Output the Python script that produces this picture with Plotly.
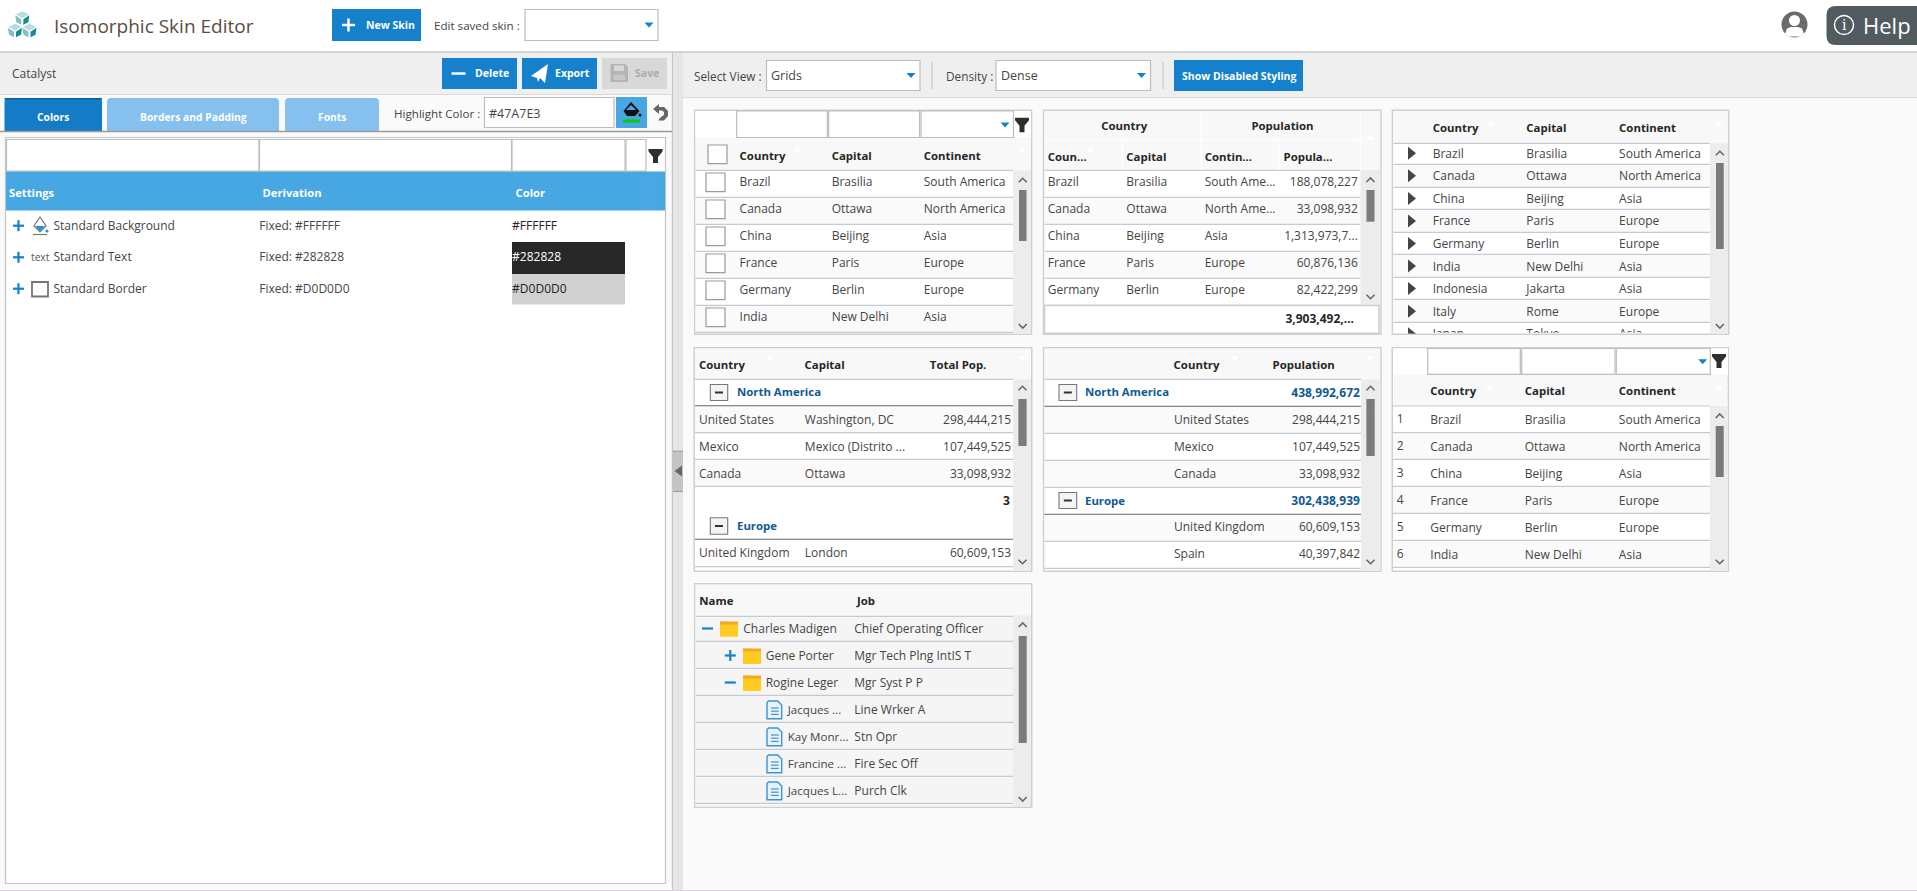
import plotly.graph_objects as go

# ---------- content ----------
APP_TITLE = "Isomorphic Skin Editor"
SKIN_NAME = "Catalyst"
TABS = ["Colors", "Borders and Padding", "Fonts"]
SETTINGS_HEADERS = ["Settings", "Derivation", "Color"]
SETTINGS_NAMES = ["Standard Background", "Standard Text", "Standard Border"]
SETTINGS_DERIV = ["Fixed: #FFFFFF", "Fixed: #282828", "Fixed: #D0D0D0"]
SETTINGS_COLOR = ["#FFFFFF", "#282828", "#D0D0D0"]

GRID_HEAD = ["Country", "Capital", "Continent"]
COUNTRIES = ["Brazil", "Canada", "China", "France", "Germany", "India", "Indonesia", "Italy", "Japan"]
CAPITALS = ["Brasilia", "Ottawa", "Beijing", "Paris", "Berlin", "New Delhi", "Jakarta", "Rome", "Tokyo"]
CONTINENTS = ["South America", "North America", "Asia", "Europe", "Europe", "Asia", "Asia", "Europe", "Asia"]

G2_TOP = ["Country", "Population"]
G2_HEAD = ["Coun...", "Capital", "Contin...", "Popula..."]
G2_CONTINENTS = ["South Ame...", "North Ame...", "Asia", "Europe", "Europe"]
G2_POP = ["188,078,227", "33,098,932", "1,313,973,7...", "60,876,136", "82,422,299"]
G2_SUMMARY = "3,903,492,..."

G4_HEAD = ["Country", "Capital", "Total Pop."]
G4_COUNTRY = ["United States", "Mexico", "Canada"]
G4_CAPITAL = ["Washington, DC", "Mexico (Distrito ...", "Ottawa"]
G4_POP = ["298,444,215", "107,449,525", "33,098,932"]
G4_COUNT = "3"
G4_LAST = ["United Kingdom", "London", "60,609,153"]
GROUPS = ["North America", "Europe"]

G5_HEAD = ["Country", "Population"]
G5_GROUP_POP = ["438,992,672", "302,438,939"]
G5_COUNTRY_A = ["United States", "Mexico", "Canada"]
G5_POP_A = ["298,444,215", "107,449,525", "33,098,932"]
G5_COUNTRY_B = ["United Kingdom", "Spain"]
G5_POP_B = ["60,609,153", "40,397,842"]

G6_INDEX = ["1", "2", "3", "4", "5", "6"]

TREE_HEAD = ["Name", "Job"]
TREE_NAMES = ["Charles Madigen", "Gene Porter", "Rogine Leger", "Jacques ...", "Kay Monr...", "Francine ...", "Jacques L..."]
TREE_JOBS = ["Chief Operating Officer", "Mgr Tech Plng IntIS T", "Mgr Syst P P", "Line Wrker A", "Stn Opr", "Fire Sec Off", "Purch Clk"]

# ---------- styles ----------
W, H = 1917, 891
FONT = "Open Sans"
BLUE = "#1580CC"
TXT = "#454545"
HEAD = "#262626"
GROUP = "#0F5A96"
RULE = "#C6CAD2"
EDGE = "#CFCFCF"
TSIZE = 12
HSIZE = 11.4
TEXT_OFFSET = 29
BOLD_SHIFT = 3.5

shapes, anns, traces = [], [], []


def rect(x0, y0, x1, y1, fill="rgba(0,0,0,0)", line=None, lw=1):
    shapes.append(dict(type="rect", x0=x0, y0=y0, x1=x1, y1=y1, xref="x", yref="y", fillcolor=fill,
                       line=dict(color=line or "rgba(0,0,0,0)", width=lw if line else 0), layer="below"))


def hline(x0, x1, y, color=RULE, lw=1):
    shapes.append(dict(type="line", x0=x0, x1=x1, y0=y, y1=y, xref="x", yref="y",
                       line=dict(color=color, width=lw), layer="below"))


def poly(points, fill="rgba(0,0,0,0)", line=None, lw=1, close=True):
    d = "M" + " L".join(f"{x:.2f},{y:.2f}" for x, y in points) + (" Z" if close else "")
    shapes.append(dict(type="path", path=d, xref="x", yref="y", fillcolor=fill,
                       line=dict(color=line or "rgba(0,0,0,0)", width=lw if line else 0), layer="below"))


def circle(cx, cy, r, fill="rgba(0,0,0,0)", line=None, lw=1):
    shapes.append(dict(type="circle", x0=cx - r, x1=cx + r, y0=cy - r, y1=cy + r, xref="x", yref="y",
                       fillcolor=fill, line=dict(color=line or "rgba(0,0,0,0)", width=lw if line else 0),
                       layer="below"))


def label(x, y, text, size=TSIZE, color=TXT, bold=False, anchor="left", family=FONT):
    anns.append(dict(x=x, y=y, xref="x", yref="y", text=f"<b>{text}</b>" if bold else text, showarrow=False,
                     xanchor=anchor, yanchor="middle", borderpad=0, borderwidth=0,
                     font=dict(family=family, size=size, color=color)))


def table(edges, first_center, row_h, columns, bottom=None, align="left", color=TXT, size=None, bold=False):
    """Text-only table: edges are the column boundaries; text sits 8px inside them."""
    size = size or (HSIZE if bold else TSIZE)
    top = first_center - TEXT_OFFSET - (BOLD_SHIFT if bold else 0)
    rows = len(columns[0])
    bottom = bottom if bottom is not None else top + rows * row_h + 30
    vals = [[(f"<b>{v}</b>" if bold else v).replace(" ", "\u00a0") for v in col] for col in columns]
    traces.append(go.Table(
        domain=dict(x=[edges[0] / W, edges[-1] / W], y=[1 - bottom / H, 1 - top / H]),
        columnwidth=[edges[i + 1] - edges[i] for i in range(len(edges) - 1)],
        header=dict(values=[], height=1, fill=dict(color="rgba(0,0,0,0)"), line=dict(width=0)),
        cells=dict(values=vals, height=row_h, align=align, fill=dict(color="rgba(0,0,0,0)"), line=dict(width=0),
                   font=dict(family=FONT, size=size, color=color)),
    ))


def chevrons(cx, up_y, down_y):
    poly([(cx - 4, up_y + 2), (cx, up_y - 2), (cx + 4, up_y + 2)], line="#666666", lw=1.6, close=False)
    poly([(cx - 4, down_y - 2), (cx, down_y + 2), (cx + 4, down_y - 2)], line="#666666", lw=1.6, close=False)


def gutter(x0, x1, y0, y1, tx0, tx1, ty0, ty1, up, down):
    rect(x0, y0, x1, y1, "#ECECEC")
    rect(tx0, ty0, tx1, ty1, "#7A7A7A")
    chevrons((tx0 + tx1) / 2, up, down)


def arrow_down(cx, cy, color=BLUE):
    poly([(cx - 4.5, cy - 2.5), (cx + 4.5, cy - 2.5), (cx, cy + 2.5)], color)


def funnel(cx, y0, y1, color="#2E2E2E"):
    poly([(cx - 7, y0), (cx + 7, y0), (cx + 7, y0 + 2.5), (cx + 2.5, y0 + 8), (cx + 2.5, y1), (cx - 2.5, y1),
          (cx - 2.5, y0 + 8), (cx - 7, y0 + 2.5)], color)


def sort_tri(cx, cy, up=True):
    d = -2.5 if up else 2.5
    poly([(cx - 4, cy - d), (cx + 4, cy - d), (cx, cy + d)], "#FFFFFF")


def plus(cx, cy, r=5.5, color=BLUE, lw=2.2):
    poly([(cx - r, cy), (cx + r, cy)], line=color, lw=lw, close=False)
    poly([(cx, cy - r), (cx, cy + r)], line=color, lw=lw, close=False)


def minus(cx, cy, r=5.5, color=BLUE, lw=2.2):
    poly([(cx - r, cy), (cx + r, cy)], line=color, lw=lw, close=False)


def dropdown(x0, y0, x1, y1):
    rect(x0, y0, x1, y1, "#FFFFFF", "#BDBDBD", 1.2)
    arrow_down(x1 - 9, (y0 + y1) / 2)


def grid_box(x0, y0, x1, y1, head_bottom, fill="#F8F8F8"):
    rect(x0, y0, x1, y1, "#FFFFFF", EDGE, 1.5)
    rect(x0 + 1, y0 + 1, x1 - 1, head_bottom, fill)


def stripes(x0, x1, ys):
    for i in range(len(ys) - 1):
        if i % 2:
            rect(x0, ys[i], x1, ys[i + 1], "#FAFAFA")


def rules(x0, x1, ys, color=RULE):
    for y in ys:
        hline(x0, x1, y, color, 1.2)


def filter_boxes(edges, y0, y1):
    for a, b in edges:
        rect(a, y0, b, y1, "#FFFFFF", "#BDBDBD", 1.2)


def folder(x0, y0, x1, y1):
    poly([(x0, y0 + 1.5), (x0 + 7, y0 + 1.5), (x0 + 9, y0 + 4), (x1, y0 + 4), (x1, y1), (x0, y1)], "#FFCB22")
    rect(x0, y0 + 1.5, x1, y0 + 4.5, "#F5A623")


def doc(x0, y0, x1, y1):
    poly([(x0 + 1.5, y0), (x1 - 4, y0), (x1, y0 + 4), (x1, y1), (x0, y1), (x0, y0 + 1.5)], "#E8F2FB", "#3F93D8", 1.4)
    for k in range(3):
        yy = y0 + 7 + k * 3.2
        poly([(x0 + 4, yy), (x1 - 3, yy)], line="#3F93D8", lw=1.2, close=False)


def minus_box(x0, y0, x1, y1):
    shapes.append(dict(type="rect", x0=x0, x1=x1, y0=y0, y1=y1, xref="x", yref="y", fillcolor="#F4F4F4",
                       line=dict(color="#777777", width=1.1), layer="below"))
    poly([((x0 + x1) / 2 - 4, (y0 + y1) / 2), ((x0 + x1) / 2 + 4, (y0 + y1) / 2)], line="#333333", lw=2, close=False)


def button(x0, y0, x1, y1, fill=BLUE):
    rect(x0, y0, x1, y1, fill)


# ---------- page frame ----------
rect(0, 0, W, 51, "#FFFFFF")
rect(0, 51, W, 53, "#D2D2D2")
rect(0, 53, 672, H, "#FAFAFA")
rect(672, 53, 683, H, "#E5E5E5")
shapes.append(dict(type="line", x0=672.3, x1=672.3, y0=53, y1=H, xref="x", yref="y",
                   line=dict(color="#BDBDBD", width=1), layer="below"))
rect(683, 53, W, H, "#FAFAFA")
rect(0, 890, W, 891, "#E4C8E4")

# header bar
teals = ["#7FC0C8", "#158A93", "#B8DCE0"]
for cx, cy in [(22.3, 18.3), (15, 30.7), (29.5, 30.7)]:
    poly([(cx - 6.5, cy - 4), (cx, cy - 7), (cx + 6.5, cy - 4), (cx, cy)], teals[2])
    poly([(cx - 7, cy - 3), (cx - 1, cy + 1), (cx - 1, cy + 6.5), (cx - 6, cy + 4)], teals[0])
    poly([(cx + 7, cy - 3), (cx + 1, cy + 1), (cx + 1, cy + 6.5), (cx + 6, cy + 4)], teals[1])
label(54, 26, APP_TITLE, size=19, color="#5A4C44")
button(332, 9, 421, 41)
plus(348.5, 25, r=6.5, color="#FFFFFF", lw=2.4)
label(365.5, 25, "New Skin", size=10.5, color="#FFFFFF", bold=True)
label(434, 25, "Edit saved skin :", size=11.6)
dropdown(525, 9.5, 658, 40.5)

circle(1794.5, 24.5, 13, "#6B6B6B")
circle(1794.5, 20.5, 5.5, "#FFFFFF")
poly([(1785, 34), (1787, 28.5), (1791, 27), (1798, 27), (1802, 28.5), (1804, 34), (1800, 36.5), (1789, 36.5)], "#FFFFFF")
shapes.append(dict(type="path", xref="x", yref="y", layer="below", fillcolor="#525C60", line=dict(width=0),
                   path="M1917,6 L1836,6 Q1826.5,6 1826.5,15 L1826.5,36 Q1826.5,45 1836,45 L1917,45 Z"))
circle(1844, 25, 9.5, line="#FFFFFF", lw=1.4)
label(1844, 25, "i", size=14, color="#FFFFFF", anchor="center", family="DejaVu Serif")
label(1863, 25, "Help", size=22, color="#FFFFFF")

# left toolbar
rect(0, 53, 672, 94, "#EFEFEF")
hline(0, 672, 94.5, "#DADADA")
label(11.5, 73, SKIN_NAME)
button(442, 58, 517, 89)
minus(458.5, 73.5, r=7, color="#FFFFFF", lw=2.4)
label(475, 73, "Delete", size=10.5, color="#FFFFFF", bold=True)
button(522, 58, 597, 89)
poly([(531, 76), (548, 64), (545, 83), (540, 78), (538, 82), (537, 78)], "#FFFFFF")
label(555, 73, "Export", size=10.5, color="#FFFFFF", bold=True)
button(602, 58, 667, 89, "#D8D8D8")
poly([(610.5, 64), (625, 64), (628, 67), (628, 82), (610.5, 82)], "#B4B4B4")
rect(614, 65.5, 624, 71, "#D8D8D8")
rect(613.5, 74.5, 625, 80, "#C8C8C8")
label(635, 73, "Save", size=10.5, color="#ABABAB", bold=True)

# tabs
for (x0, x1, fill), name, tx in zip([(4.5, 102, "#147BC7"), (107, 279, "#85C0EE"), (285, 379, "#85C0EE")], TABS,
                                    [53, 193.5, 331.5]):
    shapes.append(dict(type="path", xref="x", yref="y", layer="below", fillcolor=fill, line=dict(width=0),
                       path=f"M{x0},131 L{x0},102 Q{x0},98 {x0 + 4},98 L{x1 - 4},98 Q{x1},98 {x1},102 L{x1},131 Z"))
    label(tx, 117, name, size=10.3, color="#FFFFFF", bold=True, anchor="center")
rect(4.5, 98, 102, 99.5, "#0D5E9E")
label(394, 113, "Highlight Color :", size=11.6)
rect(484.5, 97.5, 614, 127.5, "#FFFFFF", "#BDBDBD", 1.2)
label(489, 113, "#47A7E3", size=12.5)
rect(616, 97, 647, 128, "#47A7E3")
poly([(631, 102), (639.5, 111), (635, 116), (627, 116), (623.5, 111)], "#111111")
poly([(631, 105), (636, 110), (626, 110)], "#47A7E3")
circle(640, 115, 1.5, "#111111")
rect(623, 119.5, 640, 122.5, "#0ACB0A")
poly([(653, 109), (659, 104), (659, 107), (664, 107), (668, 111), (668, 116), (664, 120.5), (658, 120.5), (661, 117),
      (664, 115), (664, 112), (662, 110.5), (659, 110.5), (659, 114)], "#666666")
hline(0, 672, 131.5, "#9A9A9A", 1.4)

# settings grid
rect(5.5, 137.5, 665.5, 883.5, "#FFFFFF", "#C4C4C4", 1.2)
filter_boxes([(6.5, 259), (259.5, 511.5), (512, 625), (626, 646)], 139.5, 171)
funnel(655.5, 149, 163)
rect(6, 171.5, 665, 210.5, "#47A7E3")
table([1, 254.5, 507.6, 640], 193, 30, [[h] for h in SETTINGS_HEADERS], color="#FFFFFF", bold=True, size=11.2)
rect(512, 242, 625, 274, SETTINGS_COLOR[1])
rect(512, 274, 625, 304.5, SETTINGS_COLOR[2])
table([45.5, 251.4, 504.5, 640], 225.7, 31.5, [SETTINGS_NAMES, SETTINGS_DERIV, SETTINGS_COLOR],
      color=[[TXT] * 3, [TXT] * 3, ["#222222", "#FFFFFF", "#222222"]])
for y in (225.7, 257.3, 288.7):
    plus(18.5, y)
# bucket, text and border glyphs
poly([(40, 217), (46, 226), (40, 232), (34, 226)], "#FFFFFF", "#777777", 1.2)
poly([(35, 226), (45, 226), (40, 231.5)], "#2D8ED8")
circle(47, 231, 1.6, "#2D8ED8")
hline(33, 47, 234.5, "#777777", 1.2)
label(31, 257.3, "text", size=10.2, color="#555555")
rect(32, 282, 48, 296.5, "#FFFFFF", "#777777", 1.8)

# right toolbar
rect(683, 53, W, 97, "#EFEFEF")
hline(683, W, 97.5, "#DADADA")
label(693.5, 75.5, "Select View :", size=11.8)
dropdown(766.5, 60.5, 920, 90.5)
label(770.5, 75.5, "Grids", size=12.5)
shapes.append(dict(type="line", x0=932, x1=932, y0=62, y1=89, xref="x", yref="y",
                   line=dict(color="#C8C8C8", width=1.2), layer="below"))
label(945.5, 75.5, "Density :", size=11.8)
dropdown(996, 60.5, 1150.5, 90.5)
label(1001, 75.5, "Dense", size=12.5)
shapes.append(dict(type="line", x0=1163, x1=1163, y0=62, y1=89, xref="x", yref="y",
                   line=dict(color="#C8C8C8", width=1.2), layer="below"))
button(1174, 60, 1303, 91)
label(1238.5, 75.5, "Show Disabled Styling", size=10.5, color="#FFFFFF", bold=True, anchor="center")

# grid 1: filter + checkboxes
R1 = [170.3 + 27 * i for i in range(7)]
grid_box(694.7, 110.3, 1031.5, 334.3, 170)
rect(695.5, 111, 1031, 137.5, "#FFFFFF")
filter_boxes([(736.7, 827.3), (828.6, 919.6), (921, 1013.5)], 111, 137.5)
arrow_down(1005, 125)
funnel(1022, 117.7, 132.3)
stripes(695.5, 1013, R1)
rules(695.5, 1013, R1)
gutter(1013, 1031, 170.3, 334, 1019, 1026.5, 190, 241, 180.3, 326)
rect(708, 145, 727, 163.7, "#FFFFFF", "#9A9A9A", 1.2)
for i in range(6):
    rect(706, 173 + 27 * i, 725, 191.7 + 27 * i, "#FFFFFF", "#9A9A9A", 1.2)
sort_tri(796.7, 149.3)
sort_tri(1022, 149.3)
E1 = [731.6, 823.8, 916, 1030]
table(E1, 156, 27, [[h] for h in GRID_HEAD], color=HEAD, bold=True)
table(E1, 182, 27, [COUNTRIES[:6], CAPITALS[:6], CONTINENTS[:6]])

# grid 2: two level header + summary
R2 = [170.3 + 27 * i for i in range(6)]
grid_box(1043.5, 110.3, 1381, 334.3, 170)
stripes(1044.5, 1360.5, R2)
rules(1044.5, 1360.5, R2)
gutter(1360.5, 1380.5, 170, 305, 1366.5, 1374.5, 190, 221.7, 180, 296.7)
hline(1044.5, 1360.5, 140.5, "#FFFFFF", 1.2)
for xx, y0 in [(1201, 111), (1360.4, 111), (1122.4, 141), (1279, 141)]:
    shapes.append(dict(type="line", x0=xx, x1=xx, y0=y0, y1=170, xref="x", yref="y",
                       line=dict(color="#FFFFFF", width=1.2), layer="below"))
sort_tri(1091, 149.3)
sort_tri(1370.5, 137)
rect(1044.5, 305.5, 1379, 333.3, "#FFFFFF", "#CFCFCF", 1.6)
table([1046, 1203, 1362], 126.7, 30, [[G2_TOP[0]], [G2_TOP[1]]], align="center", color=HEAD, bold=True)
E2 = [1039.8, 1118.5, 1197, 1276, 1366.5]
table(E2, 157, 27, [[h] for h in G2_HEAD], color=HEAD, bold=True)
table(E2, 182, 27, [COUNTRIES[:5], CAPITALS[:5], G2_CONTINENTS, G2_POP],
      align=["left", "left", "left", "right"])
table([1200, 1362], 318.3, 27, [[G2_SUMMARY]], align="right", color=HEAD, bold=True, size=12)

# grid 3: expansion arrows
R3 = [143.3, 164.3, 187.3, 209.3, 232.3, 254.3, 277.3, 299.3, 322.3]
grid_box(1392.4, 110.3, 1728.6, 334.3, 143)
stripes(1393.5, 1710, R3)
rules(1393.5, 1710, R3)
gutter(1710, 1728, 143.3, 334, 1716, 1723.7, 163, 249, 153.3, 326)
for i in range(9):
    cy = 153.3 + 22.55 * i
    poly([(1408, cy - 6.5), (1416, cy), (1408, min(cy + 6.5, 333.5))], "#444444")
sort_tri(1491, 122.7)
sort_tri(1718.7, 122.7)
E3 = [1424.7, 1518.4, 1611.3, 1725]
table(E3, 128.7, 27, [[h] for h in GRID_HEAD], color=HEAD, bold=True)
table(E3, 153.8, 22.55, [COUNTRIES, CAPITALS, CONTINENTS], bottom=333.5)

# grid 4: grouped with summary
R4 = [379.3, 405.7, 432.7, 459.3, 486.3, 539.3, 566.7]
grid_box(694.2, 347.7, 1031.7, 571.3, 379)
stripes(695, 1013, R4[:5])
rules(695, 1013, R4)
hline(695, 1013, 405.7, "#8C8C8C", 1.2)
hline(695, 1013, 539.3, "#8C8C8C", 1.2)
gutter(1013, 1031, 379.3, 571, 1018.4, 1026.6, 399, 446, 388.3, 561.7)
minus_box(710.3, 384.5, 727.7, 400.5)
minus_box(710.3, 517.7, 727.7, 534.3)
label(736.5, 391.7, GROUPS[0], size=11.4, color=GROUP, bold=True)
label(736.5, 525.7, GROUPS[1], size=11.4, color=GROUP, bold=True)
sort_tri(769.5, 358.7, up=False)
sort_tri(1022, 358.7, up=False)
E4 = [691, 797, 925, 1019.5]
table(E4[:3], 365, 27, [[h] for h in G4_HEAD[:2]], color=HEAD, bold=True)
table([921.8, 1025], 365, 27, [[G4_HEAD[2]]], color=HEAD, bold=True)
table(E4, 419.7, 27, [G4_COUNTRY, G4_CAPITAL, G4_POP], align=["left", "left", "right"])
table([900, 1018.6], 500.7, 27, [[G4_COUNT]], align="right", color=HEAD, bold=True, size=12)
table(E4, 552.7, 27, [[v] for v in G4_LAST], align=["left", "left", "right"])

# grid 5: grouped, values on group rows
R5 = [379.3 + 27 * i for i in range(8)]
grid_box(1043.6, 347.7, 1381, 571.3, 379)
stripes(1044.5, 1361, R5)
rules(1044.5, 1361, R5)
hline(1044.5, 1361, R5[1], "#8C8C8C", 1.2)
hline(1044.5, 1361, R5[5], "#8C8C8C", 1.2)
gutter(1361, 1380.5, 379.3, 571, 1366.4, 1374.7, 399, 456, 388.3, 561.7)
minus_box(1059, 384.5, 1076.7, 400.5)
minus_box(1059, 492.5, 1076.7, 508.5)
label(1085, 391.7, GROUPS[0], size=11.4, color=GROUP, bold=True)
label(1085, 500, GROUPS[1], size=11.4, color=GROUP, bold=True)
sort_tri(1235, 358.7, up=False)
sort_tri(1370, 358.7, up=False)
table([1165.6, 1264.7, 1380], 365, 27, [[h] for h in G5_HEAD], color=HEAD, bold=True)
E5 = [1166, 1268, 1368]
table(E5, 392.2, 27, [[""], [G5_GROUP_POP[0]]], align=["left", "right"], color=GROUP, bold=True, size=12)
table(E5, 419.7, 27, [G5_COUNTRY_A, G5_POP_A], align=["left", "right"])
table(E5, 500.2, 27, [[""], [G5_GROUP_POP[1]]], align=["left", "right"], color=GROUP, bold=True, size=12)
table(E5, 527.2, 27, [G5_COUNTRY_B, G5_POP_B], align=["left", "right"])

# grid 6: filter + row numbers
R6 = [406, 432.7, 459.3, 486.3, 513.3, 540.3, 567.3]
grid_box(1392.3, 347.7, 1728.3, 571.3, 406)
rect(1393, 348.5, 1728, 374.3, "#FFFFFF")
filter_boxes([(1427.7, 1520.3), (1521.7, 1615), (1616.3, 1710.3)], 348.5, 374.3)
arrow_down(1702.7, 361.7)
funnel(1719, 354, 368)
stripes(1393, 1710, R6)
rules(1393, 1710, R6)
gutter(1710, 1728, 406, 571, 1715.7, 1723.7, 426, 477, 416, 561.7)
sort_tri(1489.3, 386.7)
sort_tri(1719, 386.7)
E6 = [1422.3, 1517, 1611.3, 1725]
table(E6, 391.7, 27, [[h] for h in GRID_HEAD], color=HEAD, bold=True)
table([1388.7, 1422.3], 418.7, 27, [G6_INDEX])
table(E6, 419.7, 27, [COUNTRIES[:6], CAPITALS[:6], CONTINENTS[:6]])

# grid 7: tree
R7 = [616.3, 641.3, 668.3, 695.3, 722.3, 749.3, 776.3, 803.3]
grid_box(694.7, 583.7, 1031.7, 807.3, 616)
rect(695.5, 616.3, 1013, 806.5, "#F5F5F5")
rules(695.5, 1013, R7)
gutter(1013, 1031, 615.5, 806.5, 1018.7, 1026.7, 636, 743, 625, 799)
minus(707.5, 628.5)
folder(720, 620, 738, 636.7)
plus(730.3, 655.5)
folder(743, 647, 761, 664)
minus(730.3, 682.5)
folder(743, 674, 761, 691)
for i in range(4):
    doc(767, 701 + 27 * i, 781.7, 718.7 + 27 * i)
table([691.3, 849.3, 1000], 601, 27, [[h] for h in TREE_HEAD], color=HEAD, bold=True)
table([735.3, 880], 628.8, 27, [TREE_NAMES[:1]])
table([757.7, 880], 655.8, 27, [TREE_NAMES[1:3]])
table([779.7, 880], 709.8, 27, [TREE_NAMES[3:]], size=11.6)
table([846.3, 1010], 628.8, 27, [TREE_JOBS])

# splitter handle
rect(673, 451, 683, 492, "#C4C4C4")
hline(673, 683, 451.2, "#999999")
hline(673, 683, 491.5, "#999999")
poly([(674.5, 471), (682, 465.5), (682, 476.5)], "#666666")

fig = go.Figure(traces)
fig.update_layout(
    width=W, height=H, autosize=False, margin=dict(l=0, r=0, t=0, b=0, pad=0),
    paper_bgcolor="#FAFAFA", plot_bgcolor="rgba(0,0,0,0)", showlegend=False,
    xaxis=dict(range=[0, W], visible=False, fixedrange=True, domain=[0, 1]),
    yaxis=dict(range=[H, 0], visible=False, fixedrange=True, domain=[0, 1]),
    shapes=shapes, annotations=anns, font=dict(family=FONT),
)
# an invisible cartesian trace so the pixel axes above exist for shapes and labels
fig.add_trace(go.Scatter(x=[0, W], y=[0, H], mode="markers", marker=dict(opacity=0), hoverinfo="skip"))
fig.write_html("out.html", config=dict(displayModeBar=False),
               post_script="document.body.style.margin='0';document.body.style.overflow='hidden';")
